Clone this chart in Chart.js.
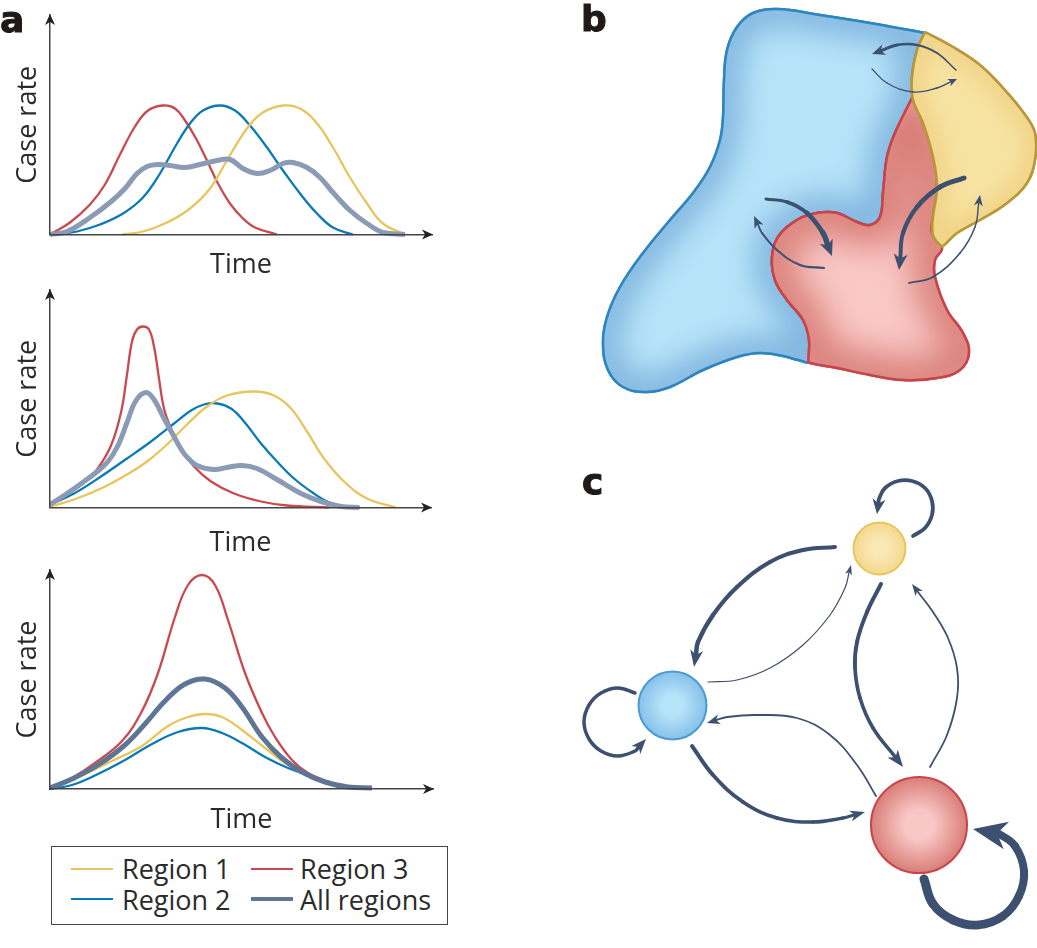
<!DOCTYPE html>
<html>
<head>
<meta charset="utf-8">
<script src="https://cdn.jsdelivr.net/npm/chart.js@4/dist/chart.umd.min.js"></script>
<style>
  html, body { margin: 0; background: #fff; }
  #page { position: relative; width: 1037px; height: 948px; overflow: hidden; font-family: "Open Sans", sans-serif; color: #2b2b2b; }
  #page canvas { position: absolute; }
  .letter { position: absolute; font: 800 36px "DejaVu Sans", sans-serif; color: #1f1a17; line-height: 36px; -webkit-text-stroke: 1px #1f1a17; }
  #legend { position: absolute; left: 51px; top: 846px; width: 395px; height: 77px; border: 1.5px solid #444; }
  #legend .item { position: absolute; font-size: 27px; line-height: 30px; white-space: nowrap; }
  #legend .swatch { position: absolute; }
</style>
</head>
<body>
<div id="page">
  <canvas id="a1"></canvas>
  <canvas id="a2"></canvas>
  <canvas id="a3"></canvas>
  <canvas id="net"></canvas>
  <div class="letter" style="left:0px;top:2px">a</div>
  <div class="letter" style="left:581px;top:1px">b</div>
  <div class="letter" style="left:582px;top:464px">c</div>
  <div id="legend"></div>
</div>
<script>
const YELLOW = "#e8c55c", RED = "#c9494f", BLUE = "#0a7ab5", GREY = "#8b9ab5", SLATE = "#5f7596", NAVY = "#3d5070";

const seriesNames = ["Region 1", "Region 2", "Region 3", "All regions"];

// panel a, top: [time, case rate]
const topRegion1 = [[72,0],[93,3],[117,12],[140,26],[160,46],[178,76],[197,106],[213,122],[233,129],[250,126],[267,111],[283,87],[300,57],[317,31],[333,11],[355,0]];
const topRegion2 = [[7,0],[27,3],[50,10],[73,21],[93,37],[110,61],[127,91],[140,111],[153,124],[170,129],[185,124],[200,109],[217,87],[233,64],[250,41],[267,21],[283,7],[303,0]];
const topRegion3 = [[0,0],[20,12],[40,30],[55,50],[70,80],[85,108],[98,124],[113,129],[125,126],[135,114],[146,96],[157,74],[168,51],[180,31],[192,17],[205,7],[227,0]];
const topAll = [[0,0],[17,3],[40,17],[60,32],[75,46],[87,61],[97,68],[108,70],[120,69],[135,67],[150,70],[167,74],[180,75],[193,66],[207,61],[220,64],[233,71],[243,72],[257,67],[270,57],[283,42],[300,24],[317,11],[333,2],[355,0]];

// panel a, middle
const midRegion1 = [[0,1],[24,8],[51,19],[77,33],[97,46],[117,63],[137,83],[157,101],[177,112],[204,116],[224,112],[241,99],[257,76],[274,49],[294,26],[317,9],[346,0]];
const midRegion2 = [[0,3],[24,14],[51,31],[77,49],[101,66],[124,84],[141,97],[154,103],[167,104],[181,99],[194,86],[211,64],[227,46],[244,29],[261,16],[277,6],[294,1],[310,0]];
const midRegion3 = [[0,3],[17,13],[34,25],[47,38],[61,62],[71,95],[77,133],[82,166],[87,178],[93,181],[99,178],[104,161],[109,129],[114,99],[121,79],[131,59],[144,41],[161,26],[184,14],[211,6],[237,2],[279,0]];
const midAll = [[0,3],[17,14],[34,26],[46,35],[58,46],[68,62],[77,85],[86,107],[96,115],[104,108],[114,89],[124,71],[134,54],[147,42],[164,38],[177,40],[192,42],[207,39],[227,28],[251,14],[271,6],[291,1],[309,0]];

// panel a, bottom
const lowRegion1 = [[0,1],[28,12],[62,28],[92,43],[118,63],[138,72],[155,75],[172,72],[192,59],[215,41],[238,24],[258,14],[282,5],[302,2],[322,1]];
const lowRegion2 = [[0,0],[22,4],[48,15],[75,29],[102,45],[128,57],[152,61],[172,56],[192,46],[215,32],[238,21],[258,14],[282,6],[302,2],[322,1]];
const lowRegion3 = [[0,1],[22,11],[45,26],[72,48],[92,78],[108,116],[125,172],[138,204],[152,214],[165,204],[178,169],[195,116],[212,76],[225,52],[242,29],[258,16],[282,6],[302,2],[322,1]];
const lowAll = [[0,1],[22,10],[48,24],[75,44],[95,65],[115,88],[135,105],[155,110],[175,101],[192,82],[212,52],[232,31],[252,17],[275,7],[298,2],[322,1]];

// panel b outlines
const blueArea = [[925,33],[870,23],[820,15],[777,9],[753,13],[737,27],[727,50],[724,80],[723,117],[720,140],[710,167],[693,193],[670,220],[643,253],[620,287],[607,317],[603,343],[608,370],[623,387],[647,392],[670,387],[703,370],[737,357],[760,353],[783,356],[798,360],[812,362],[815,345],[803,320],[787,300],[775,280],[772,257],[778,237],[797,220],[817,213],[837,213],[857,222],[870,225],[880,217],[883,193],[887,157],[895,133],[912,98],[912,77],[917,50],[925,33]];
const redArea = [[912,98],[923,123],[933,157],[937,187],[933,217],[932,233],[942,248],[935,260],[935,277],[947,310],[963,333],[969,353],[960,370],[937,378],[903,380],[870,375],[837,368],[810,363],[808.5,361],[809,340],[803,320],[787,300],[775,280],[772,257],[778,237],[797,220],[817,213],[837,213],[857,222],[870,225],[880,217],[883,193],[887,157],[895,133],[912,98]];
const yellowArea = [[925,32],[953,47],[980,65],[1003,88],[1023,112],[1035,133],[1035,160],[1027,183],[1007,203],[980,220],[957,233],[943,246],[941,246],[933,235],[933,217],[937,187],[933,157],[923,123],[913,100],[912,77],[917,50],[925,32]];

// panel b flows
const flowYellowBlue = [[956,70],[937,53],[917,45],[897,45],[872,54]];
const flowBlueYellow = [[872,69],[887,83],[913,92],[937,88],[957,79]];
const flowBlueRed = [[766,199],[787,202],[807,213],[823,233],[832,256]];
const flowRedBlue = [[824,268],[800,265],[777,250],[762,233],[754,216]];
const flowYellowRed = [[964,178],[940,187],[917,207],[903,233],[899,270]];
const flowRedYellow = [[909,283],[933,277],[960,253],[975,227],[980,195]];

// panel c nodes: x, y, radius
const nodeYellow = [879.5, 548.5, 26];
const nodeBlue = [672.5, 705.5, 34];
const nodeRed = [919, 825, 48];

// panel c links
const linkYellowBlue = [[835,547],[803,550],[770,562],[737,587],[713,615],[698,642],[694,667]];
const linkBlueYellow = [[708,682],[737,680],[770,668],[803,645],[830,615],[845,588],[851,565]];
const linkYellowRed = [[881,584],[867,612],[857,642],[855,668],[860,698],[873,728],[903,767]];
const linkRedYellow = [[930,767],[947,735],[957,698],[957,668],[948,638],[933,612],[912,584]];
const linkBlueRed = [[692,746],[713,775],[743,802],[777,818],[813,822],[843,818],[865,812]];
const linkRedBlue = [[876,796],[857,765],[830,735],[797,718],[757,715],[727,717],[707,723]];
const loopYellow = [[913,536],[925,528],[932,515],[932,501],[925,488],[912,481],[898,481],[885,488],[879,499],[877,514]];
const loopBlue = [[635,693],[618,688],[601,693],[589,705],[584,722],[589,739],[601,751],[618,756],[635,751],[646,739]];
const loopRed = [[924,879],[933,904],[953,920],[978,925],[1003,916],[1019,896],[1024,871],[1015,846],[999,834],[973,829]];

const points = (pairs) => pairs.map(([x, y]) => ({ x, y }));

function head(ctx, x, y, angle, len, wide, color) {
  ctx.save();
  ctx.translate(x, y);
  ctx.rotate(angle);
  ctx.fillStyle = color;
  ctx.beginPath();
  ctx.moveTo(0, 0);
  ctx.lineTo(-len, -wide / 2);
  ctx.lineTo(-len * 0.72, 0);
  ctx.lineTo(-len, wide / 2);
  ctx.closePath();
  ctx.fill();
  ctx.restore();
}

const axisArrows = {
  id: "axisArrows",
  afterDraw(chart) {
    const { left, right, top, bottom } = chart.chartArea;
    head(chart.ctx, left, top - 1, -Math.PI / 2, 11, 10, "#222");
    head(chart.ctx, right + 1, bottom, 0, 11, 10, "#222");
  },
};

function curveChart(id, top, height, axisTop, axisBottom, xMax, xTitleAt, region1, region2, region3, all, allColor) {
  const canvas = document.getElementById(id);
  canvas.style.left = "0px";
  canvas.style.top = top + "px";
  canvas.width = 450;
  canvas.height = height;
  const line = (label, data, color, width) => ({
    label, data: points(data), borderColor: color, borderWidth: width,
    showLine: true, pointRadius: 0, tension: 0.4, clip: false,
  });
  new Chart(canvas, {
    type: "scatter",
    data: {
      datasets: [
        line(seriesNames[3], all, allColor, 5),
        line(seriesNames[0], region1, YELLOW, 2.3),
        line(seriesNames[1], region2, BLUE, 2.3),
        line(seriesNames[2], region3, RED, 2.3),
      ],
    },
    options: {
      responsive: false,
      animation: false,
      layout: { autoPadding: false, padding: { top: axisTop - top, right: 450 - 50 - xMax } },
      plugins: { legend: { display: false }, tooltip: { enabled: false } },
      scales: {
        x: {
          min: 0, max: xMax,
          afterFit: (s) => { s.height = top + height - axisBottom; },
          grid: { display: false },
          border: { color: "#444", width: 1.5, z: 1 },
          ticks: { display: false },
          title: { display: true, text: "Time", color: "#2b2b2b", font: { family: "Open Sans", size: 27 }, padding: { top: 0, bottom: top + height - xTitleAt - 20 } },
        },
        y: {
          min: 0, max: axisBottom - axisTop,
          afterFit: (s) => { s.width = 50; },
          grid: { display: false },
          border: { color: "#444", width: 1.5, z: 1 },
          ticks: { display: false },
          title: { display: true, text: "Case rate", color: "#2b2b2b", font: { family: "Open Sans", size: 27 }, padding: { top: 12, bottom: 0 } },
        },
      },
    },
    plugins: [axisArrows],
  });
}

curveChart("a1", 0, 285, 15, 234.5, 382, 262, topRegion1, topRegion2, topRegion3, topAll, GREY);
curveChart("a2", 285, 275, 290, 507.5, 381, 540, midRegion1, midRegion2, midRegion3, midAll, GREY);
curveChart("a3", 560, 280, 570, 789, 383, 817, lowRegion1, lowRegion2, lowRegion3, lowAll, SLATE);

// legend built from the same names and colours
const legendRows = [
  [seriesNames[0], YELLOW, 2.5, 19, 72, 10, 20],
  [seriesNames[2], RED, 2.5, 199, 250, 10, 20],
  [seriesNames[1], BLUE, 2.5, 19, 72, 41, 50],
  [seriesNames[3], SLATE, 4.5, 199, 250, 41, 50],
];
const legend = document.getElementById("legend");
legendRows.forEach(([name, color, w, sx, tx, ty, sy]) => {
  const sw = document.createElement("div");
  sw.className = "swatch";
  sw.style.cssText = `left:${sx}px;top:${sy + 2 - w / 2}px;width:42px;height:${w}px;background:${color}`;
  const t = document.createElement("div");
  t.className = "item";
  t.textContent = name;
  t.style.cssText = `left:${tx - 2}px;top:${ty - 3}px`;
  legend.append(sw, t);
});

// panels b and c
const netCanvas = document.getElementById("net");
netCanvas.style.left = "570px";
netCanvas.style.top = "0px";
netCanvas.width = 467;
netCanvas.height = 948;

function area(data, stroke, centre, edge, glowWidth, glowBlur) {
  return {
    data: points(data), showLine: true, pointRadius: 0, tension: 0.4, clip: false,
    fill: "shape", backgroundColor: centre, borderColor: stroke, borderWidth: 2.5,
    glow: edge, glowWidth, glowBlur,
  };
}

// widths: line width at the start and at the head, the stroke tapers between them
function arrow(data, [w0, w1], len, wide) {
  const pts = points(data);
  const tip = pts[pts.length - 1];
  const prev = pts[pts.length - 2];
  const dist = Math.hypot(tip.x - prev.x, tip.y - prev.y);
  const back = Math.min(len * 0.7, dist * 0.8) / dist;
  const end = { x: tip.x - (tip.x - prev.x) * back, y: tip.y - (tip.y - prev.y) * back };
  const count = pts.length - 1;
  return {
    data: [...pts.slice(0, -1), end], showLine: true, pointRadius: 0, tension: 0.4, clip: false,
    borderColor: NAVY, borderWidth: Math.max(w0, w1), borderCapStyle: "round", fill: false,
    segment: { borderWidth: (c) => w0 + (w1 - w0) * c.p0DataIndex / Math.max(count - 1, 1) },
    tip, headLen: len, headWide: wide,
  };
}

function node([x, y, r], stroke, centre, edge) {
  return {
    data: [{ x, y }], pointRadius: r, pointBorderWidth: 2, pointBorderColor: stroke, clip: false,
    pointBackgroundColor: (c) => {
      const px = c.chart.scales.x.getPixelForValue(x);
      const py = c.chart.scales.y.getPixelForValue(y);
      if (!Number.isFinite(px) || !Number.isFinite(py)) return centre;
      const g = c.chart.ctx.createRadialGradient(px, py, 0, px, py, r);
      g.addColorStop(0, centre);
      g.addColorStop(0.3, centre);
      g.addColorStop(1, edge);
      return g;
    },
  };
}

const innerGlow = {
  id: "innerGlow",
  afterDatasetDraw(chart, args) {
    const ds = chart.data.datasets[args.index];
    if (!ds.glow) return;
    const ctx = chart.ctx;
    const shape = args.meta.dataset;
    ctx.save();
    ctx.beginPath();
    shape.path(ctx);
    ctx.clip();
    ctx.filter = `blur(${ds.glowBlur}px)`;
    ctx.strokeStyle = ds.glow;
    ctx.lineWidth = ds.glowWidth;
    ctx.beginPath();
    shape.path(ctx);
    ctx.stroke();
    ctx.restore();
    ctx.save();
    ctx.strokeStyle = ds.borderColor;
    ctx.lineWidth = ds.borderWidth;
    ctx.lineJoin = "round";
    ctx.beginPath();
    shape.path(ctx);
    ctx.stroke();
    ctx.restore();
  },
};

const arrowHeads = {
  id: "arrowHeads",
  afterDatasetsDraw(chart) {
    const { x: sx, y: sy } = chart.scales;
    chart.data.datasets.forEach((ds) => {
      if (!ds.tip) return;
      const end = ds.data[ds.data.length - 1];
      const tx = sx.getPixelForValue(ds.tip.x), ty = sy.getPixelForValue(ds.tip.y);
      const angle = Math.atan2(ty - sy.getPixelForValue(end.y), tx - sx.getPixelForValue(end.x));
      head(chart.ctx, tx, ty, angle, ds.headLen, ds.headWide, NAVY);
    });
  },
};

new Chart(netCanvas, {
  type: "scatter",
  data: {
    datasets: [
      arrow(flowYellowBlue, [1.5, 3], 13, 11),
      arrow(flowBlueYellow, [1.2, 1.4], 9, 8),
      arrow(flowBlueRed, [3, 5.5], 16, 14),
      arrow(flowRedBlue, [2.2, 1.8], 12, 10),
      arrow(flowYellowRed, [5, 4], 16, 14),
      arrow(flowRedYellow, [1.8, 1.4], 11, 9),
      arrow(linkYellowBlue, [4, 4.5], 17, 13),
      arrow(linkBlueYellow, [1.2, 1.2], 10, 7),
      arrow(linkYellowRed, [4, 3.5], 17, 13),
      arrow(linkRedYellow, [1.8, 1.8], 12, 9),
      arrow(linkBlueRed, [4, 3.2], 15, 11),
      arrow(linkRedBlue, [1.8, 1.8], 13, 10),
      arrow(loopYellow, [3.8, 3.8], 15, 13),
      arrow(loopBlue, [3.5, 3.5], 15, 12),
      arrow(loopRed, [9, 7.5], 34, 28),
      node(nodeYellow, "#e8c55c", "#fae9b6", "#f4d88c"),
      node(nodeBlue, "#4b9bd0", "#b7e4f9", "#86c0ea"),
      node(nodeRed, "#c8444b", "#f9c8c6", "#d97e78"),
      area(yellowArea, "#b8983a", "#f7e3a2", "#f0d284", 22, 10),
      area(redArea, "#c8444b", "#fac9c6", "#d97e78", 44, 17),
      area(blueArea, "#2e86c1", "#b7e4f9", "#7fb3de", 34, 15),
    ],
  },
  options: {
    responsive: false,
    animation: false,
    layout: { autoPadding: false, padding: 0 },
    plugins: { legend: { display: false }, tooltip: { enabled: false } },
    scales: {
      x: { display: false, min: 570, max: 1037 },
      y: { display: false, min: 0, max: 948, reverse: true },
    },
  },
  plugins: [innerGlow, arrowHeads],
});
</script>
</body>
</html>
